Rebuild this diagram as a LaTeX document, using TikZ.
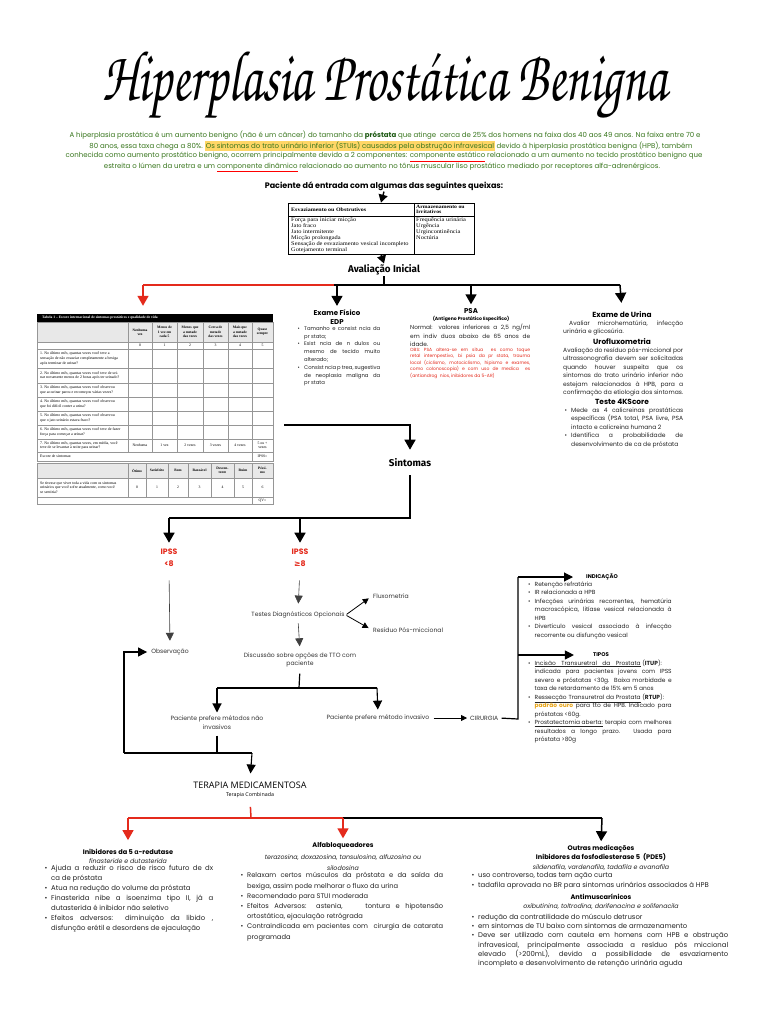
\documentclass[tikz,border=0pt]{standalone}
\usepackage{fontspec}
\usepackage{graphicx}
\usetikzlibrary{arrows.meta}
\setmainfont{Poppins}
\newfontfamily\serf{Liberation Serif}
\newfontfamily\serfw{Liberation Serif}[FakeStretch=1.15]
\newfontfamily\fira{Fira Sans}
\newfontfamily\osans{Open Sans}
\newfontfamily\djv{DejaVu Sans}
\newfontfamily\scriptf{texgyrechorus-mediumitalic.otf}
\definecolor{grn}{RGB}{56,118,29}
\definecolor{dgrn}{RGB}{30,90,20}
\definecolor{hl}{RGB}{255,214,102}
\definecolor{rd}{RGB}{228,42,28}
\definecolor{gold}{RGB}{232,165,25}
\definecolor{txt}{RGB}{35,35,35}
\definecolor{gridc}{RGB}{150,150,150}
\newcommand\jl[2]{\makebox[#1][s]{#2}}
\newcommand\lastl[2]{\makebox[#1][l]{#2}}
\newcommand\bul{\makebox[6.5pt][l]{•}}
\newcommand\nob{\hspace*{6.5pt}}
\newcommand\bl[2]{\bul\jl{#1}{#2}}
\newcommand\bL[2]{\bul\lastl{#1}{#2}}
\newcommand\cl[2]{\nob\jl{#1}{#2}}
\newcommand\cL[2]{\nob\lastl{#1}{#2}}
\newcommand\rul[1]{{\color{red}$\underline{\hbox{\color{grn}#1}}$}}
\newcommand\bu[1]{$\underline{\hbox{#1}}$}
\tikzset{
  blk/.style={anchor=north west, align=left, inner sep=0pt, text=txt},
  hd/.style={font=\bfseries\fontsize{7}{8}\selectfont, inner sep=1pt, text=black},
  flow/.style={font=\fontsize{6.1}{8.8}\selectfont, text=black!80, inner sep=1pt, align=center},
  intro/.style={font=\fontsize{7}{8}\selectfont, text=grn, inner sep=0pt},
  bigarr/.style={line width=1.5pt, -{Triangle[width=11pt,length=10pt]}},
  redarr/.style={draw=rd, line width=1.5pt, -{Triangle[width=11pt,length=10pt]}},
  midarr/.style={line width=1.1pt, -{Triangle[width=9pt,length=9pt]}},
  thinarr/.style={line width=0.6pt, draw=black!75, -{Triangle[width=8pt,length=8pt]}},
  smarr/.style={line width=0.8pt, -{Triangle[width=6pt,length=6pt]}},
  gl/.style={draw=gridc, line width=0.4pt},
  tq/.style={font=\serf\fontsize{3.9}{4.8}\selectfont, anchor=west, align=left, inner sep=0pt},
  th/.style={font=\serf\bfseries\fontsize{3.6}{4.3}\selectfont, align=center, inner sep=0pt},
  tn/.style={font=\serf\fontsize{3.8}{4.5}\selectfont, align=center, inner sep=0pt},
  bhd/.style={font=\bfseries\fontsize{6.6}{8.5}\selectfont, inner sep=1pt, align=center},
  bit/.style={font=\itshape\fontsize{6.3}{10.5}\selectfont, inner sep=1pt, align=center, text=txt},
}
\begin{document}
\begin{tikzpicture}[x=1pt,y=-1pt]
\useasboundingbox[fill=white] (0,0) rectangle (768,1024);

% ---------- title ----------
\node[inner sep=0, anchor=base] (title) at (385,101) {\resizebox{564pt}{!}{\scalebox{1}[1.4]{\scriptf Hiperplasia Prostática Benigna}}};

% ---------- intro ----------
\setlength\fboxsep{0.6pt}
\node[intro] (i1) at (385,135) {A hiperplasia prostática é um aumento benigno (não é um câncer) do tamanho da \textbf{\color{dgrn}próstata} que atinge \ cerca de 25\% dos homens na faixa dos 40 aos 49 anos. Na faixa entre 70 e};
\node[intro] (i2) at (391,146) {80 anos, essa taxa chega a 80\%. \colorbox{hl}{Os sintomas do trato urinário inferior (STUIs) causados pela obstrução infravesical} devido à hiperplasia prostática benigna (HPB), também};
\node[intro] (i3) at (384,157) {conhecida como aumento prostático benigno, ocorrem principalmente devido a 2 componentes: \rul{componente estático} relacionado a um aumento no tecido prostático benigno que};
\node[intro] (i4) at (382,167.5) {estreita o lúmen da uretra e um \rul{componente dinâmico} relacionado ao aumento no tônus muscular liso prostático mediado por receptores alfa-adrenérgicos.};

% ---------- queixas ----------
\node[font=\bfseries\fontsize{8}{9}\selectfont, inner sep=1pt] (q) at (384,186) {Paciente dá entrada com algumas das seguintes queixas:};
\node[draw, line width=0.7pt, minimum width=186pt, minimum height=51pt, inner sep=0] (qt) at (381,228.5) {};
\draw[line width=0.6pt] (288,216) -- (474,216);
\draw[line width=0.6pt] (414,203) -- (414,254);
\node[anchor=west, inner sep=0, font=\serfw\bfseries\fontsize{5.2}{5.5}\selectfont] (qh1) at (291,210) {Esvaziamento ou Obstrutivos};
\node[anchor=west, inner sep=0, align=left, font=\serfw\bfseries\fontsize{5}{5.6}\selectfont] (qh2) at (416,209.5) {Armazenamento ou\\Irritativos};
\node[blk, text=black, font=\serfw\fontsize{5.55}{5.9}\selectfont] (qb1) at (291,217.8) {Força para iniciar micção\\Jato fraco\\Jato intermitente\\Micção prolongada\\Sensação de esvaziamento vesical incompleto\\Gotejamento terminal};
\node[blk, text=black, font=\serfw\fontsize{5.55}{5.9}\selectfont] (qb2) at (416,217.8) {Frequência urinária\\Urgência\\Urgincontinência\\Noctúria};
\draw[line width=1.4pt, -{Triangle[width=9pt,length=8pt]}] (q.south) -- (qt.north);

% ---------- avaliação inicial ----------
\node[font=\fira\bfseries\fontsize{9.8}{11}\selectfont, inner sep=1pt] (av) at (384,270) {Avaliação Inicial};
\draw[line width=1.4pt, -{Triangle[width=9pt,length=8pt]}] (qt.south) -- (av.north);
\coordinate (ja) at (384,285);
\coordinate (jL) at (143,285);
\coordinate (jR1) at (334,285);
\coordinate (jEF) at (337,285);
\coordinate (jPSA) at (471,285);
\coordinate (jEU) at (620,285);
\draw[line width=1.4pt] (av.south) -- (ja);
\draw[rd, line width=1.6pt] (jL) -- (jR1);
\draw[line width=1.6pt] (jR1) -- (jEU);

% ---------- IPSS table ----------
\node[minimum width=236pt, minimum height=190pt, inner sep=0] (ipss) at (155,409) {};
\draw[redarr, shorten >=8pt] (jL) -- (ipss.north -| jL);
\fill[black] (37,314) rectangle (273,322);
\node[anchor=west, text=white, font=\serf\bfseries\fontsize{3.6}{4}\selectfont, inner sep=0] (ipsst) at (42,318) {Tabela 1 – Escore internacional de sintomas prostáticos e qualidade de vida};
\fill[gray!18] (37,322) rectangle (273,342);
\draw[gl] (37,322) rectangle (273,461);
\foreach \yy in {342,349,368,383,397,411,425,439,452} \draw[gl] (37,\yy) -- (273,\yy);
\foreach \xx in {128,152,177,203,228,252} \draw[gl] (\xx,322) -- (\xx,452);
\draw[gl] (252,452) -- (252,461);
\node[th] at (140,332) {Nenhuma\\vez};
\node[th] at (164.5,332) {Menos de\\1 vez em\\cada 5};
\node[th] at (190,332) {Menos que\\a metade\\das vezes};
\node[th] at (215.5,332) {Cerca de\\metade\\das vezes};
\node[th] at (240,332) {Mais que\\a metade\\das vezes};
\node[th] at (262.5,332) {Quase\\sempre};
\foreach \xx/\nn in {140/0,164.5/1,190/2,215.5/3,240/4,262.5/5} \node[tn] at (\xx,345.5) {\nn};
\node[tq] at (40,358.5) {1. No último mês, quantas vezes você teve a\\sensação de não esvaziar completamente a bexiga\\após terminar de urinar?};
\node[tq] at (40,375.5) {2. No último mês, quantas vezes você teve de uri-\\nar novamente menos de 2 horas após ter urinado?};
\node[tq] at (40,390) {3. No último mês, quantas vezes você observou\\que ao urinar parou e recomeçou várias vezes?};
\node[tq] at (40,404) {4. No último mês, quantas vezes você observou\\que foi difícil conter a urina?};
\node[tq] at (40,418) {5. No último mês, quantas vezes você observou\\que o jato urinário estava fraco?};
\node[tq] at (40,432) {6. No último mês, quantas vezes você teve de fazer\\força para começar a urinar?};
\node[tq] at (40,445.5) {7. No último mês, quantas vezes, em média, você\\teve de se levantar à noite para urinar?};
\foreach \xx/\nn in {140/Nenhuma,164.5/1 vez,190/2 vezes,215.5/3 vezes,240/4 vezes} \node[tn] at (\xx,445.5) {\nn};
\node[tn] at (262.5,445.5) {5 ou +\\vezes};
\node[tq] at (40,456.5) {Escore de sintomas:};
\node[tn] at (262.5,456.5) {IPSS=};
\fill[gray!18] (37,463) rectangle (273,478);
\draw[gl] (37,463) rectangle (273,504);
\draw[gl] (37,478) -- (273,478);
\draw[gl] (37,497) -- (273,497);
\foreach \xx in {128,146,168,188,211,234} \draw[gl] (\xx,463) -- (\xx,497);
\draw[gl] (252,463) -- (252,504);
\foreach \xx/\nn in {137/Ótimo,157/Satisfeito,178/Bom,199.5/Razoável,243/Ruim} \node[th] at (\xx,470.5) {\nn};
\node[th] at (222.5,470.5) {Descon-\\tente};
\node[th] at (262.5,470.5) {Péssi-\\mo};
\foreach \xx/\nn in {137/0,157/1,178/2,199.5/3,222.5/4,243/5,262.5/6} \node[tn] at (\xx,487.5) {\nn};
\node[tq] at (40,487.5) {Se tivesse que viver toda a vida com os sintomas\\urinários que você sofre atualmente, como você\\se sentiria?};
\node[tn] at (262.5,500.5) {QV=};

% ---------- Exame físico ----------
\node[hd] (ef) at (337,313) {Exame Físico};
\node[hd] (edp) at (337,322) {EDP};
\draw[bigarr, shorten >=3pt] (jEF) -- (ef.north);
\node[blk, font=\fontsize{5.3}{7.8}\selectfont] (efb) at (297.5,326) {\bl{76pt}{Tamanho e consist ncia da}\\\cL{76pt}{pr stata;}\\\bl{76pt}{Exist ncia de n dulos ou}\\\cl{76pt}{mesmo de tecido muito}\\\cL{76pt}{alterado;}\\\bl{76pt}{Consist ncia p trea, sugestiva}\\\cl{76pt}{de neoplasia maligna da}\\\cL{76pt}{pr stata}};

% ---------- PSA ----------
\node[hd] (psa) at (471,311) {PSA};
\node[font=\bfseries\fontsize{4.6}{5}\selectfont, inner sep=0.5pt] (psas) at (471,319) {(Antígeno Prostático Específico)};
\draw[bigarr, shorten >=3pt] (jPSA) -- (psa.north);
\node[blk, font=\fontsize{5.8}{8.4}\selectfont] (psab) at (410,324) {\jl{120pt}{Normal: valores inferiores a 2,5 ng/ml}\\\jl{120pt}{em indiv duos abaixo de 65 anos de}\\\lastl{120pt}{idade.}};
\node[blk, text=rd, font=\fontsize{4.5}{6.5}\selectfont] (obsb) at (410,347.5) {\jl{120pt}{OBS: PSA altera-se em situa \ es como toque}\\\jl{120pt}{retal intempestivo, bi psia da pr stata, trauma}\\\jl{120pt}{local (ciclismo, motociclismo, hipismo e exames,}\\\jl{120pt}{como colonoscopia) e com uso de medica \ es}\\\lastl{120pt}{(antiandrog \ nios, inibidores da 5-AR)}};

% ---------- Exame de urina ----------
\node[hd, font=\bfseries\fontsize{7.4}{8}\selectfont] (eu) at (622,315) {Exame de Urina};
\draw[bigarr, shorten >=8pt] (jEU) -- (eu.north);
\node[blk, font=\fontsize{6}{8.3}\selectfont] (eub1) at (563,320.5) {\jl{120pt}{\hspace*{6pt}Avaliar microhematúria, infecção}\\\lastl{120pt}{urinária e glicosúria.}};
\node[hd, font=\bfseries\fontsize{7.4}{8}\selectfont] (uro) at (622,342) {Urofluxometria};
\node[blk, font=\fontsize{6}{8.5}\selectfont] (eub2) at (563,347.5) {\jl{120pt}{Avaliação do resíduo pós-miccional por}\\\jl{120pt}{ultrassonografia devem ser solicitadas}\\\jl{120pt}{quando houver suspeita que os}\\\jl{120pt}{sintomas do trato urinário inferior não}\\\jl{120pt}{estejam relacionados à HPB, para a}\\\jl{120pt}{confirmação da etiologia dos sintomas.}};
\node[hd, font=\bfseries\fontsize{7.4}{8}\selectfont] (k4) at (622,402) {Teste 4KScore};
\node[blk, font=\fontsize{6}{8.5}\selectfont] (k4b) at (564.5,407.5) {\bl{112pt}{Mede as 4 calicreinas prostáticas}\\\cl{112pt}{específicas (PSA total, PSA livre, PSA}\\\cL{112pt}{intacto e calicreina humana 2}\\\bl{112pt}{Identifica a probabilidade de}\\\cL{112pt}{desenvolvimento de ca de próstata}};

% ---------- Sintomas ----------
\node[font=\fira\bfseries\fontsize{9.9}{11}\selectfont, inner sep=1pt] (sin) at (410,463) {Sintomas};
\coordinate (s0) at (284,425);
\draw[bigarr, shorten >=8pt] (s0) -| (sin.north);
\coordinate (js) at (410,518);
\coordinate (jIL) at (169,518);
\coordinate (jIR) at (300,518);
\draw[line width=1.4pt, shorten <=7pt] (sin.south) -- (js) -- (jIL);
\node[font=\bfseries\fontsize{7.8}{12.5}\selectfont, text=rd, align=center, inner sep=1pt] (ipl) at (169,558) {IPSS\\<8};
\node[font=\bfseries\fontsize{7.8}{12.5}\selectfont, text=rd, align=center, inner sep=1pt] (ipr) at (300,558) {IPSS\\{\djv\bfseries ≥}8};
\draw[bigarr, shorten >=5pt] (jIL) -- (ipl.north);
\draw[bigarr, shorten >=5pt] (jIR) -- (ipr.north);

% ---------- middle flow ----------
\node[flow] (obs) at (170,652) {Observação};
\draw[thinarr, shorten <=12pt, shorten >=7pt] (ipl.south) -- (obs.north);
\node[flow] (tes) at (298,615) {Testes Diagnósticos Opcionais};
\draw[thinarr, shorten <=12pt, shorten >=7pt] (ipr.south) -- (tes.north);
\node[flow, anchor=west] (flux) at (372,596) {Fluxometria};
\node[flow, anchor=west] (res) at (372,630) {Resíduo Pós-miccional};
\draw[smarr, shorten <=1pt, shorten >=4pt] (tes.east) -- (flux.west);
\draw[smarr, shorten <=1pt, shorten >=4pt] (tes.east) -- (res.west);
\node[flow] (disc) at (300,660) {Discussão sobre opções de TTO com\\paciente};
\draw[thinarr, shorten <=4pt, shorten >=5pt] (tes.south) -- (disc.north);
\coordinate (db) at (299,688);
\coordinate (dbl) at (217,688);
\coordinate (dbr) at (377,688);
\draw[line width=1.2pt, shorten <=5pt] (disc.south) -- (db);
\draw[line width=1.2pt] (dbl) -- (dbr);
\node[flow] (ptni) at (217,722.5) {Paciente prefere métodos não\\invasivos};
\node[flow] (ptin) at (378,718) {Paciente prefere método invasivo};
\draw[midarr, shorten >=2pt] (dbl) -- (ptni.north);
\draw[midarr, shorten >=4pt] (dbr) -- (ptin.north);
\node[flow, anchor=west] (cir) at (469,718) {CIRURGIA};
\draw[smarr, shorten <=3pt, shorten >=2pt] (ptin.east) -- (cir.west);

% ---------- cirurgia bracket ----------
\node[font=\bfseries\fontsize{5.4}{6}\selectfont, inner sep=1pt] (ind) at (602,577) {INDICAÇÃO};
\node[font=\bfseries\fontsize{5.4}{6}\selectfont, inner sep=1pt] (tip) at (601,655) {TIPOS};
\coordinate (br0) at (518,719);
\coordinate (brT) at (518,577);
\coordinate (brM) at (518,655);
\draw[line width=1.2pt, shorten <=2pt] (cir.east) -- (br0) -- (brT);
\draw[midarr, shorten >=12pt] (brT) -- (ind.west);
\draw[midarr, shorten >=18pt] (brM) -- (tip.west);
\node[blk, font=\fontsize{5.9}{8.5}\selectfont] (indb) at (528,581.3) {\bL{137pt}{Retenção refratária}\\\bL{137pt}{IR relacionada a HPB}\\\bl{137pt}{Infecções urinárias recorrentes, hematúria}\\\cl{137pt}{macroscópica, litíase vesical relacionada à}\\\cL{137pt}{HPB}\\\bl{137pt}{Divertículo vesical associado à infecção}\\\cL{137pt}{recorrente ou disfunção vesical}};
\node[blk, font=\fontsize{5.9}{8.5}\selectfont] (tipb) at (528,659.3) {\bL{137pt}{\bu{\jl{106pt}{Incisão Transuretral da Prostata}} (\textbf{ITUP}):}\\\cl{137pt}{indicada para pacientes jovens com IPSS}\\\cl{137pt}{severo e próstatas <30g. Baixa morbidade e}\\\cL{137pt}{taxa de retardamento de 15\% em 5 anos}\\\bL{137pt}{\bu{\jl{106pt}{Ressecção Transuretral da Prostata}} (\textbf{RTUP}):}\\\cl{137pt}{\textcolor{gold}{\textbf{padrão ouro}} para tto de HPB. Indicado para}\\\cL{137pt}{próstatas <60g.}\\\bl{137pt}{\bu{Prostatectomia aberta:} terapia com melhores}\\\cl{137pt}{resultados a longo prazo. Usada para}\\\cL{137pt}{próstata >80g}};

% ---------- loop / terapia ----------
\node[font=\osans\fontsize{9}{10}\selectfont, inner sep=1pt] (ter) at (250,785) {TERAPIA MEDICAMENTOSA};
\node[font=\osans\fontsize{5.3}{6}\selectfont, inner sep=1pt] (tco) at (250,795) {Terapia Combinada};
\coordinate (lp1) at (124,753);
\coordinate (lp2) at (217,753);
\coordinate (lp3) at (252,753);
\draw[line width=1.1pt, shorten <=5pt] (ptni.south) -- (lp2);
\draw[line width=1.1pt] (lp1) -- (lp3);
\draw[midarr, shorten >=3pt] (lp1) |- (obs.west);
\draw[midarr, shorten >=7pt] (lp3) -- (ter.north);

\coordinate (tb) at (251,818);
\coordinate (tbl) at (128,818);
\coordinate (tbm) at (343,818);
\coordinate (tbr) at (602,818);
\draw[rd, line width=1.5pt, shorten <=8pt] (tco.south) -- (tb);
\draw[rd, line width=1.5pt] (tbl) -- (tbm);
\draw[line width=1.5pt] (tbm) -- (tbr);

% ---------- bottom columns ----------
\node[bhd] (inib) at (128,852) {Inibidores da 5 {\osans\bfseries α}-redutase};
\node[bit] (inibs) at (128,861) {finasteride e dutasterida};
\draw[redarr, shorten >=8pt] (tbl) -- (inib.north);
\node[blk, font=\fontsize{6.9}{10}\selectfont] (inibb) at (44.5,865.5) {\bl{162pt}{Ajuda a reduzir o risco de risco futuro de dx}\\\cL{162pt}{ca de próstata}\\\bL{162pt}{Atua na redução do volume da próstata}\\\bl{162pt}{Finasterida nibe a isoenzima tipo II, já a}\\\cL{162pt}{dutasterida é inibidor não seletivo}\\\bl{162pt}{Efeitos adversos: diminuição da libido ,}\\\cL{162pt}{disfunção erétil e desordens de ejaculação}};

\node[bhd] (alfa) at (343,846) {Alfabloqueadores};
\node[bit] (alfas) at (343,862.5) {terazosina, doxazosina, tansulosina, alfuzosina ou\\silodosina};
\draw[redarr, shorten >=3pt] (tbm) -- (alfa.north);
\node[blk, font=\fontsize{6.7}{10.2}\selectfont] (alfab) at (240.5,872.5) {\bl{196pt}{Relaxam certos músculos da próstata e da saída da}\\\cL{196pt}{bexiga, assim pode melhorar o fluxo da urina}\\\bL{196pt}{Recomendado para STUI moderada}\\\bl{196pt}{Efeitos Adversos: astenia, \hspace{10pt} tontura e hipotensão}\\\cL{196pt}{ortostática, ejaculação retrógrada}\\\bl{196pt}{Contraindicada em pacientes com \ cirurgia de catarata}\\\cL{196pt}{programada}};

\node[bhd] (out) at (601,853) {Outras medicações\\Inibidores da fosfodiesterase 5 \ (PDE5)};
\node[bit] (outs) at (601,868) {sildenafila, vardenafila, tadafila e avanafila};
\draw[bigarr, shorten >=3pt] (tbr) -- (out.north);
\node[blk, font=\fontsize{6.9}{10}\selectfont] (outb) at (471.5,872.5) {\bL{250pt}{uso controverso, todas tem ação curta}\\\bL{250pt}{tadafila aprovada no BR para sintomas urinários associados à HPB}};
\node[bhd] (anti) at (601,897) {Antimuscarínicos};
\node[bit] (antis) at (601,907) {oxibutinina, toltrodina, darifenacina e solifenacila};
\node[blk, font=\fontsize{6.9}{9.3}\selectfont] (antib) at (471.5,913.5) {\bL{250pt}{redução da contratilidade do músculo detrusor}\\\bL{250pt}{em sintomas de TU baixo com sintomas de armazenamento}\\\bl{250pt}{Deve ser utilizado com cautela em homens com HPB e obstrução}\\\cl{250pt}{infravesical, principalmente associada a resíduo pós miccional}\\\cl{250pt}{elevado (>200mL), devido a possibilidade de esvaziamento}\\\cL{250pt}{incompleto e desenvolvimento de retenção urinária aguda}};
\end{tikzpicture}
\end{document}
